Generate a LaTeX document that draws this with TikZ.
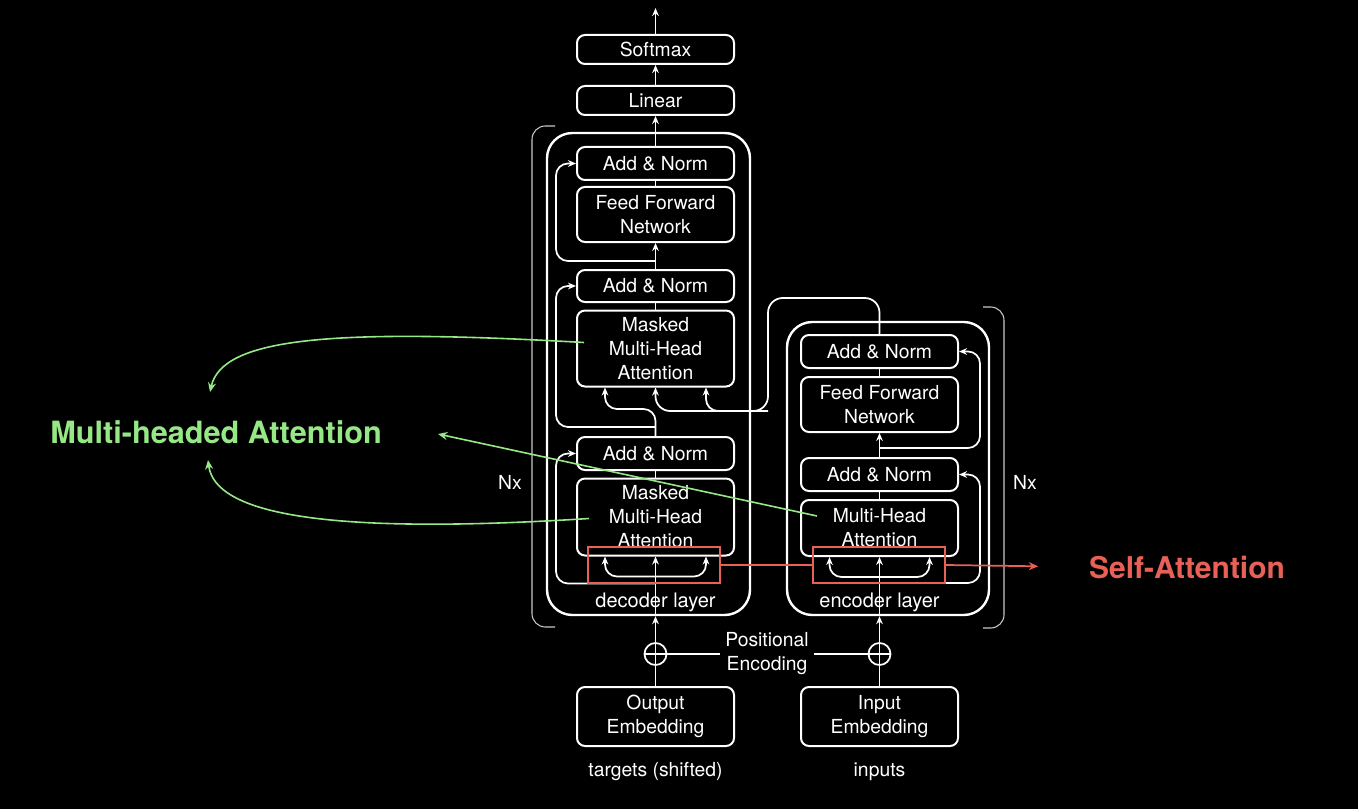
\documentclass[tikz,border=0pt]{standalone}
\usepackage{fontspec}
\setmainfont{TeX Gyre Heros}
\usetikzlibrary{arrows.meta,calc}
\definecolor{sagreen}{RGB}{150,232,135}
\definecolor{sared}{RGB}{232,96,86}
\definecolor{brkgray}{RGB}{200,200,200}
\tikzset{
  box/.style={draw=white, line width=1.5pt, rounded corners=6pt, minimum width=117.75pt,
    align=center, text=white, font=\fontsize{14.5}{18}\selectfont, inner sep=0pt},
  layerbox/.style={draw=white, line width=1.8pt, rounded corners=19pt, inner sep=0pt},
  lbl/.style={text=white, font=\fontsize{14.5}{18}\selectfont, align=center, inner sep=0pt},
  ln/.style={draw=white, line width=1.3pt},
  arr/.style={ln, -{Stealth[length=6pt,width=5pt]}},
  res/.style={arr, rounded corners=9pt},
  brk/.style={draw=brkgray, line width=0.8pt, rounded corners=10pt},
  redbox/.style={draw=sared, line width=1.3pt, minimum width=99pt, minimum height=27pt, inner sep=0pt},
  redln/.style={draw=sared, line width=1.3pt},
  grn/.style={draw=sagreen, line width=1.2pt, -{Stealth[length=7pt,width=6pt]}},
  plus/.style={circle, draw=white, line width=1.3pt, minimum size=16.5pt, inner sep=0pt}
}
\begin{document}
\begin{tikzpicture}[x=0.75pt,y=-0.75pt]
\fill[black] (0,0) rectangle (1358,809);
\useasboundingbox (0,0) rectangle (1358,809);

% rails
\coordinate (dl) at (556,0);
\coordinate (er) at (980,0);

% ---------- decoder ----------
\node[box, minimum height=21.75pt] (soft) at (655.5,49.5) {Softmax};
\node[box, minimum height=21.75pt] (lin) at (655.5,100.5) {Linear};
\coordinate (out) at (655.5,8);
\node[layerbox, minimum width=152.25pt, minimum height=361.5pt] (dlayer) at (648.5,374) {};
\node[box, minimum height=24.75pt] (dan1) at (655.5,163.5) {Add \& Norm};
\node[box, minimum height=41.25pt] (dffn) at (655.5,214.5) {Feed Forward\\Network};
\node[box, minimum height=24pt] (dan2) at (655.5,286) {Add \& Norm};
\node[box, minimum height=57pt] (dmha2) at (655.5,348.5) {Masked\\Multi-Head\\Attention};
\node[box, minimum height=24.75pt] (dan3) at (655.5,453.5) {Add \& Norm};
\node[box, minimum height=57.75pt] (dmha1) at (655.5,517) {Masked\\Multi-Head\\Attention};
\node[lbl, font=\fontsize{15}{18}\selectfont] (dlab) at (655.5,602) {decoder layer};

% ---------- encoder ----------
\node[layerbox, minimum width=151.5pt, minimum height=219.75pt] (elayer) at (888,468.5) {};
\node[box, minimum height=24.75pt] (ean1) at (879.5,351.5) {Add \& Norm};
\node[box, minimum height=41.25pt] (effn) at (879.5,404.5) {Feed Forward\\Network};
\node[box, minimum height=24.75pt] (ean2) at (879.5,474.5) {Add \& Norm};
\node[box, minimum height=42pt] (emha) at (879.5,528) {Multi-Head\\Attention};
\node[lbl, font=\fontsize{15}{18}\selectfont] (elab) at (879.5,602) {encoder layer};

% ---------- bottom ----------
\node[box, minimum height=44.25pt] (demb) at (655.5,716.5) {Output\\Embedding};
\node[box, minimum height=44.25pt] (eemb) at (879.5,716.5) {Input\\Embedding};
\node[plus] (dplus) at (655.5,654) {};
\node[plus] (eplus) at (879.5,654) {};
\draw[ln] (dplus.north) -- (dplus.south) (dplus.west) -- (dplus.east);
\draw[ln] (eplus.north) -- (eplus.south) (eplus.west) -- (eplus.east);
\node[lbl, inner sep=4pt] (pe) at (767,654) {Positional\\Encoding};
\node[lbl] (tgt) at (655.5,772) {targets (shifted)};
\node[lbl] (inp) at (879.5,772) {inputs};

\draw[ln] (demb.north) -- (dplus.south);
\draw[ln] (eemb.north) -- (eplus.south);
\draw[ln] (dplus.east) -- (dplus.east -| pe.west);
\draw[ln] (eplus.west -| pe.east) -- (eplus.west);
\draw[arr] (dplus.north) -- (dplus |- dlayer.south);
\draw[arr] (eplus.north) -- (eplus |- elayer.south);

% ---------- decoder connectors ----------
\draw[arr] (soft.north) -- (out);
\draw[arr] (lin.north) -- (soft.south);
\draw[arr] (dan1.north) -- (lin.south);
\draw[ln] (dffn.north) -- (dan1.south);
\draw[arr] (dan2.north) -- (dffn.south);
\draw[res] ($(dffn.south)+(0,18)$) -| (dl |- dan1.west) -- (dan1.west);
\draw[ln] (dmha2.north) -- (dan2.south);
\draw[res] (dan3.north) -- ++(0,-27) -| ($(dmha2.south)+(-50.5,0)$);
\draw[res] ($(dan3.north)+(0,-9)$) -| (dl |- dan2.west) -- (dan2.west);
\draw[ln] (dmha1.north) -- (dan3.south);
\draw[arr] (dplus |- dlayer.south) -- (dmha1.south);
\draw[res] ($(dmha1.south)+(0,20)$) -| ($(dmha1.south)+(-50.5,0)$);
\draw[res] ($(dmha1.south)+(0,20)$) -| ($(dmha1.south)+(50.5,0)$);
\draw[res] ($(dmha1.south)+(0,27)$) -| (dl |- dan3.west) -- (dan3.west);

% encoder -> decoder
\coordinate (xtop) at (768,298);
\coordinate (xbot) at (768,411);
\draw[arr, rounded corners=11pt] (ean1.north) |- (xtop) -- (xbot) -| (dmha2.south);
\draw[res] (xbot) -| ($(dmha2.south)+(50.5,0)$);

% ---------- encoder connectors ----------
\draw[arr] (eplus |- elayer.south) -- (emha.south);
\draw[res] ($(emha.south)+(0,20)$) -| ($(emha.south)+(-50,0)$);
\draw[res] ($(emha.south)+(0,20)$) -| ($(emha.south)+(50,0)$);
\draw[res] ($(emha.south)+(0,26)$) -| (er |- ean2.east) -- (ean2.east);
\draw[ln] (emha.north) -- (ean2.south);
\draw[arr] (ean2.north) -- (effn.south);
\draw[res] ($(effn.south)+(0,15)$) -| (er |- ean1.east) -- (ean1.east);
\draw[ln] (effn.north) -- (ean1.south);

% ---------- Nx brackets ----------
\draw[brk] (555,126) -- (532,126) -- (532,627) -- (555,627);
\draw[brk] (983,307) -- (1004,307) -- (1004,628) -- (983,628);
\node[lbl] (nxd) at (510,482) {Nx};
\node[lbl] (nxe) at (1025,482) {Nx};

% ---------- self-attention highlight ----------
\node[redbox] (dself) at (654,565) {};
\node[redbox] (eself) at (879,565) {};
\node[text=sared, font=\fontsize{22.5}{26}\bfseries, inner sep=0pt] (sa) at (1187,567) {Self-Attention};
\draw[redln] (dself.east) -- (eself.west);
\draw[redln, -{Stealth[length=7pt,width=6pt]}, shorten >=38pt] (eself.east) -- (sa.west);

% ---------- multi-headed attention ----------
\node[text=sagreen, font=\fontsize{23}{26}\bfseries, inner sep=0pt] (mha) at (216,432) {Multi-headed Attention};
\draw[grn] ($(dmha2.west)+(8,-6)$) .. controls (330,328) and (222,338) .. ($(mha.center)+(-6,-40)$);
\draw[grn] ($(dmha1.west)+(13,1.5)$) .. controls (330,535) and (215,515) .. ($(mha.center)+(-8,28)$);
\draw[grn] ($(emha.west)+(17,-12)$) -- ($(mha.east)+(56,2)$);
\end{tikzpicture}
\end{document}
